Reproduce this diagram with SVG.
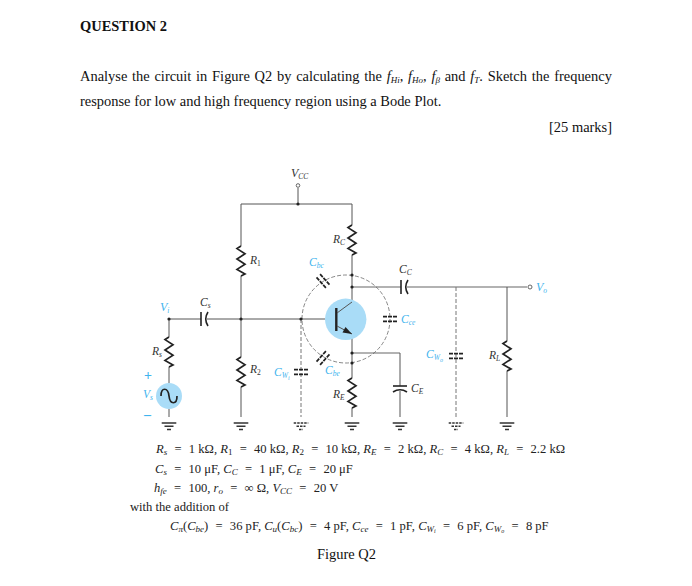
<svg xmlns="http://www.w3.org/2000/svg" width="692" height="586" viewBox="0 0 692 586">
<style>
text{font-family:"Liberation Serif","Times New Roman",serif;fill:#111}
.b{font-size:14.45px}
.e{font-size:12.6px;fill:#222}
.q{word-spacing:4.1px}
.l{font-size:11.5px;font-style:italic;fill:#333}
.c{font-size:11.5px;font-style:italic;fill:#3fb4ee}
.s{font-size:7.500px}
.t2{font-size:6px}
.e .s{font-size:9px}
.i{font-style:italic}
.w{fill:none;stroke:#555;stroke-width:1}
.o{fill:none;stroke:#999;stroke-width:1.500}
.r{fill:none;stroke:#222;stroke-width:1.700;stroke-linejoin:miter}
.p{fill:none;stroke:#222;stroke-width:1.600}
.d{fill:none;stroke:#777;stroke-width:1;stroke-dasharray:4 2}
.dc{fill:none;stroke:#555;stroke-width:.7;stroke-dasharray:4 2}
.x{fill:none;stroke:#222;stroke-width:1.700;stroke-dasharray:4 1}
.n{fill:#222}
.t{fill:#fff;stroke:#555;stroke-width:.9}
.g{fill:none;stroke:#333;stroke-width:1.500}
</style>
<defs>
<path id="res" class="r" d="M0 0L-4 2.600L4 7.800L-4 13L4 18.200L-4 23.400L4 28L0 30"/>
<g id="gnd"><path class="g" d="M-7.300 0H7.300M-4.500 3.300H4.500M-2 6.500H2"/></g>
<g id="gndd"><path class="g" stroke-dasharray="2.500 1" d="M-7.300 0H7.300M-4.500 3.300H4.500M-2 6.500H2"/></g>
<g id="cx"><path class="x" d="M-7 -2.400H7M-7 2.400H7"/></g>
</defs>

<g id="heading">
<text class="b" x="80" y="31" style="font-weight:bold">QUESTION 2</text>
<text class="b" x="80" y="81" style="word-spacing:1.150px">Analyse the circuit in Figure Q2 by calculating the <tspan class="i">f<tspan font-size="9" dy="2">Hi</tspan></tspan><tspan dy="-2">,</tspan> <tspan class="i">f<tspan font-size="9" dy="2">Ho</tspan></tspan><tspan dy="-2">,</tspan> <tspan class="i">f<tspan font-size="9" dy="2">β</tspan></tspan><tspan dy="-2"> and</tspan> <tspan class="i">f<tspan font-size="9" dy="2">T</tspan></tspan><tspan dy="-2">.</tspan> Sketch the frequency</text>
<text class="b" x="80" y="106">response for low and high frequency region using a Bode Plot.</text>
<text class="b" x="612" y="132" text-anchor="end">[25 marks]</text>
</g>

<g id="connectors">
<path class="w" d="M298 188V204M241 204H352V225M241 204V246M241 276V319M241 319V357M241 387V417"/>
<path class="w" d="M169 319H201M207 319H325M169 319V337M169 367V383M169 409V417"/>
<path class="w" d="M352 255V302M352 334V378M352 408V417"/>
<path class="o" d="M352 287H401M407 287H527"/>
<path class="o" d="M352 353H400"/>
<path class="w" d="M400 353V386M400 391V417"/>
<path class="w" d="M507 287V341M507 371V417"/>
<path class="d" d="M301 319V417M456 287V417"/>
<circle class="dc" cx="346" cy="319" r="44"/>
</g>

<g id="vcc"><circle class="t" cx="298" cy="185.500" r="1.800"/><circle class="n" cx="298" cy="204" r="1.600"/>
<text class="l" x="291" y="177" style="font-size:12px">V<tspan class="s" dy="2">CC</tspan></text></g>

<g id="r1"><use href="#res" x="241" y="246"/><text class="l" x="250" y="264">R<tspan class="s" dy="2" style="font-style:normal">1</tspan></text></g>
<g id="r2"><use href="#res" x="241" y="357"/><circle class="n" cx="241" cy="319" r="1.600"/><text class="l" x="250" y="373">R<tspan class="s" dy="2" style="font-style:normal">2</tspan></text></g>
<g id="rc"><use href="#res" x="352" y="225"/><text class="l" x="333" y="243">R<tspan class="s" dy="2">C</tspan></text></g>
<g id="re"><use href="#res" x="352" y="378"/><text class="l" x="333" y="398">R<tspan class="s" dy="2">E</tspan></text></g>
<g id="rl"><use href="#res" x="507" y="341"/><text class="l" x="489" y="359">R<tspan class="s" dy="2">L</tspan></text></g>
<g id="rs"><use href="#res" x="169" y="337"/><circle class="n" cx="169" cy="319" r="1.600"/><text class="l" x="152" y="355">R<tspan class="s" dy="2">s</tspan></text>
<text class="c" x="160" y="311" style="font-size:12px">V<tspan class="s" dy="2">i</tspan></text></g>

<g id="cs"><path class="p" d="M201 312V326"/><path class="p" d="M208 312Q203.500 319 208 326"/><text class="l" x="200" y="306">C<tspan class="s" dy="2">s</tspan></text></g>
<g id="cc"><path class="p" d="M401 280V294"/><path class="p" d="M408 280Q403.500 287 408 294"/><text class="l" x="399" y="273">C<tspan class="s" dy="2">C</tspan></text></g>
<g id="ce"><path class="p" d="M393 386H407"/><path class="p" d="M393 392Q400 387.500 407 392"/><text class="l" x="411" y="392">C<tspan class="s" dy="2">E</tspan></text></g>

<g id="source"><circle cx="169" cy="396" r="13" fill="#a9dcf7"/><path fill="none" stroke="#222" stroke-width="1.700" d="M161 396C161 387 168 387 169 396C170 405 177 405 177 396"/>
<text x="144" y="380" style="font-size:14px;font-weight:bold;fill:#3fb4ee">+</text><text x="144" y="419" style="font-size:14px;font-weight:bold;fill:#3fb4ee">–</text>
<text class="c" x="143" y="398">V<tspan class="s" dy="2">s</tspan></text></g>
<g id="gnds"><use href="#gnd" x="169" y="423"/><use href="#gnd" x="241" y="423"/><use href="#gndd" x="301" y="423"/><use href="#gnd" x="352" y="423"/><use href="#gnd" x="400" y="423"/><use href="#gndd" x="456" y="423"/><use href="#gnd" x="507" y="423"/></g>

<g id="transistor"><circle cx="345.700" cy="319.300" r="20.700" fill="#a9dcf7"/>
<path fill="none" stroke="#222" stroke-width="2.400" d="M336.300 308V331"/>
<path class="w" d="M337 313L352 302M337 326L352 334"/>
<path class="n" d="M352 334L342.500 332.500L345.500 327Z"/>
<circle class="n" cx="301" cy="319" r="1.600"/><circle class="n" cx="352" cy="275" r="1.600"/><circle class="n" cx="352" cy="287" r="1.600"/><circle class="n" cx="352" cy="353" r="1.600"/><circle class="n" cx="352" cy="363" r="1.600"/></g>

<g id="cbc"><use href="#cx" transform="translate(323 281) rotate(48)"/><text class="c" x="309" y="266">C<tspan class="s" dy="2">bc</tspan></text></g>
<g id="cbe"><use href="#cx" transform="translate(323 358) rotate(-48)"/><text class="c" x="325" y="374">C<tspan class="s" dy="2">be</tspan></text></g>
<g id="cce"><use href="#cx" transform="translate(390 319)"/><text class="c" x="401" y="323">C<tspan class="s" dy="2">ce</tspan></text></g>
<g id="cwi"><use href="#cx" transform="translate(301 372)"/><text class="c" x="274" y="376">C<tspan class="s" dy="2">W</tspan><tspan class="t2" dy="2">i</tspan></text></g>
<g id="cwo"><use href="#cx" transform="translate(456 356)"/><text class="c" x="426" y="358">C<tspan class="s" dy="2">W</tspan><tspan class="t2" dy="2">o</tspan></text></g>
<g id="vo"><circle class="t" cx="530" cy="287" r="2"/><text class="c" x="536" y="291" style="font-size:12px">V<tspan class="s" dy="2">o</tspan></text></g>

<g id="values">
<text class="e" x="156" y="453"><tspan class="i">R<tspan class="s" dy="2">s</tspan></tspan><tspan class="q" dy="-2"> = </tspan>1 kΩ, <tspan class="i">R</tspan><tspan class="s" dy="2">1</tspan><tspan class="q" dy="-2"> = </tspan>40 kΩ, <tspan class="i">R</tspan><tspan class="s" dy="2">2</tspan><tspan class="q" dy="-2"> = </tspan>10 kΩ, <tspan class="i">R<tspan class="s" dy="2">E</tspan></tspan><tspan class="q" dy="-2"> = </tspan>2 kΩ, <tspan class="i">R<tspan class="s" dy="2">C</tspan></tspan><tspan class="q" dy="-2"> = </tspan>4 kΩ, <tspan class="i">R<tspan class="s" dy="2">L</tspan></tspan><tspan class="q" dy="-2"> = </tspan>2.2 kΩ</text>
<text class="e" x="155" y="473"><tspan class="i">C<tspan class="s" dy="2">s</tspan></tspan><tspan class="q" dy="-2"> = </tspan>10 μF, <tspan class="i">C<tspan class="s" dy="2">C</tspan></tspan><tspan class="q" dy="-2"> = </tspan>1 μF, <tspan class="i">C<tspan class="s" dy="2">E</tspan></tspan><tspan class="q" dy="-2"> = </tspan>20 μF</text>
<text class="e" x="154" y="492"><tspan class="i">h<tspan class="s" dy="2">fe</tspan></tspan><tspan class="q" dy="-2"> = </tspan>100, <tspan class="i">r<tspan class="s" dy="2">o</tspan></tspan><tspan class="q" dy="-2"> = </tspan>∞ Ω, <tspan class="i">V<tspan class="s" dy="2">CC</tspan></tspan><tspan class="q" dy="-2"> = </tspan>20 V</text>
<text class="e" x="130" y="511">with the addition of</text>
<text class="e" x="170" y="530"><tspan class="i">C<tspan class="s" dy="2">π</tspan></tspan><tspan dy="-2">(</tspan><tspan class="i">C<tspan class="s" dy="2">be</tspan></tspan><tspan dy="-2">)</tspan><tspan class="q"> = </tspan>36 pF, <tspan class="i">C<tspan class="s" dy="2">u</tspan></tspan><tspan dy="-2">(</tspan><tspan class="i">C<tspan class="s" dy="2">bc</tspan></tspan><tspan dy="-2">)</tspan><tspan class="q"> = </tspan>4 pF, <tspan class="i">C<tspan class="s" dy="2">ce</tspan></tspan><tspan class="q" dy="-2"> = </tspan>1 pF, <tspan class="i">C<tspan class="s" dy="2">W</tspan><tspan class="t2" dy="1">i</tspan></tspan><tspan class="q" dy="-3"> = </tspan>6 pF, <tspan class="i">C<tspan class="s" dy="2">W</tspan><tspan class="t2" dy="1">o</tspan></tspan><tspan class="q" dy="-3"> = </tspan>8 pF</text>
<text class="b" x="317" y="559">Figure Q2</text>
</g>
</svg>
